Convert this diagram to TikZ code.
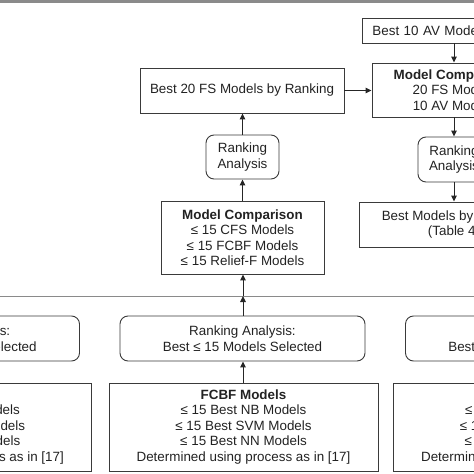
\documentclass[tikz,border=0pt]{standalone}
\usepackage{fontspec}
\setmainfont{Liberation Sans}
\usetikzlibrary{arrows.meta}
\definecolor{boxline}{HTML}{3A3A3A}
\definecolor{txt}{HTML}{222222}
\definecolor{hgray}{HTML}{8A8A8A}
\begin{document}
\begin{tikzpicture}[x=1pt,y=-1pt,
  every node/.style={font=\fontsize{13.4}{15.5}\selectfont, text=txt},
  box/.style={draw=boxline, line width=0.9pt, inner sep=0pt, align=center},
  rbox/.style={box, rounded corners=8pt},
  arr/.style={draw=black!85, line width=1pt, -{Triangle[length=6pt,width=5.5pt]}},
  hline/.style={draw=hgray, line width=1pt},
]
\useasboundingbox (0,0) rectangle (474,474);
\clip (0,0) rectangle (474,474);
\fill[hgray] (0,0) rectangle (474,2.5);

% top right column
\node[box, anchor=west, minimum height=25pt, text width=174pt, inner xsep=10pt, align=left] (av) at (362,30.5) {Best 10 AV Models};
\node[box, minimum width=164pt, minimum height=54pt] (mcR) at (454,90) {\textbf{Model Comparison}\\20 FS Models\\10 AV Models};
\node[rbox, minimum width=72pt, minimum height=45pt] (raR) at (454,159.5) {Ranking\\Analysis};
\node[box, minimum width=190pt, minimum height=45pt] (bestR) at (454,224.5) {Best Models by Ranking\\(Table 4)};

% middle column upper
\node[box, minimum width=204pt, minimum height=45pt] (best20) at (242,90.5) {Best 20 FS Models by Ranking};
\node[rbox, minimum width=73pt, minimum height=44pt] (raM) at (242.5,157) {Ranking\\Analysis};
\node[box, minimum width=163pt, minimum height=73pt] (mcM) at (242.5,237.5) {\textbf{Model Comparison}\\≤ 15 CFS Models\\≤ 15 FCBF Models\\≤ 15 Relief-F Models};

% horizontal line
\coordinate (hlL) at (-10,296);
\coordinate (hlR) at (484,296);
\coordinate (hl) at (243,296);
\draw[hline] (hlL) -- (hlR);

% bottom row
\node[rbox, minimum width=245pt, minimum height=45pt] (raL) at (-43,338.5) {Ranking Analysis:\\Best ≤ 15 Models Selected};
\node[rbox, minimum width=245pt, minimum height=45pt] (raMid) at (242.5,338.5) {Ranking Analysis:\\Best ≤ 15 Models Selected};
\node[rbox, minimum width=245pt, minimum height=45pt] (raRt) at (528,338.5) {Ranking Analysis:\\Best ≤ 15 Models Selected};

\node[box, minimum width=269pt, minimum height=88pt] (fsL) at (-43,427) {\textbf{CFS Models}\\≤ 15 Best NB Models\\≤ 15 Best SVM Models\\≤ 15 Best NN Models\\Determined using process as in [17]};
\node[box, minimum width=269pt, minimum height=88pt] (fsM) at (243.5,427) {\textbf{FCBF Models}\\≤ 15 Best NB Models\\≤ 15 Best SVM Models\\≤ 15 Best NN Models\\Determined using process as in [17]};
\node[box, minimum width=269pt, minimum height=88pt] (fsR) at (528,427) {\textbf{Relief-F Models}\\≤ 15 Best NB Models\\≤ 15 Best SVM Models\\≤ 15 Best NN Models\\Determined using process as in [17]};

% connectors
\draw[arr] (mcR.north |- av.south) -- (mcR.north);
\draw[arr] (best20.east) -- (best20.east -| mcR.west);
\draw[arr] (mcR.south) -- (raR.north);
\draw[arr] (raR.south) -- (bestR.north);
\draw[arr] (raM.north) -- (raM.north |- best20.south);
\draw[arr] (mcM.north -| raM.north) -- (raM.south);
\draw[arr] (hl) -- (hl |- mcM.south);
\draw[arr] (hl |- raMid.north) -- (hl);
\draw[arr] (hl |- fsM.north) -- (hl |- raMid.south);
\end{tikzpicture}
\end{document}
